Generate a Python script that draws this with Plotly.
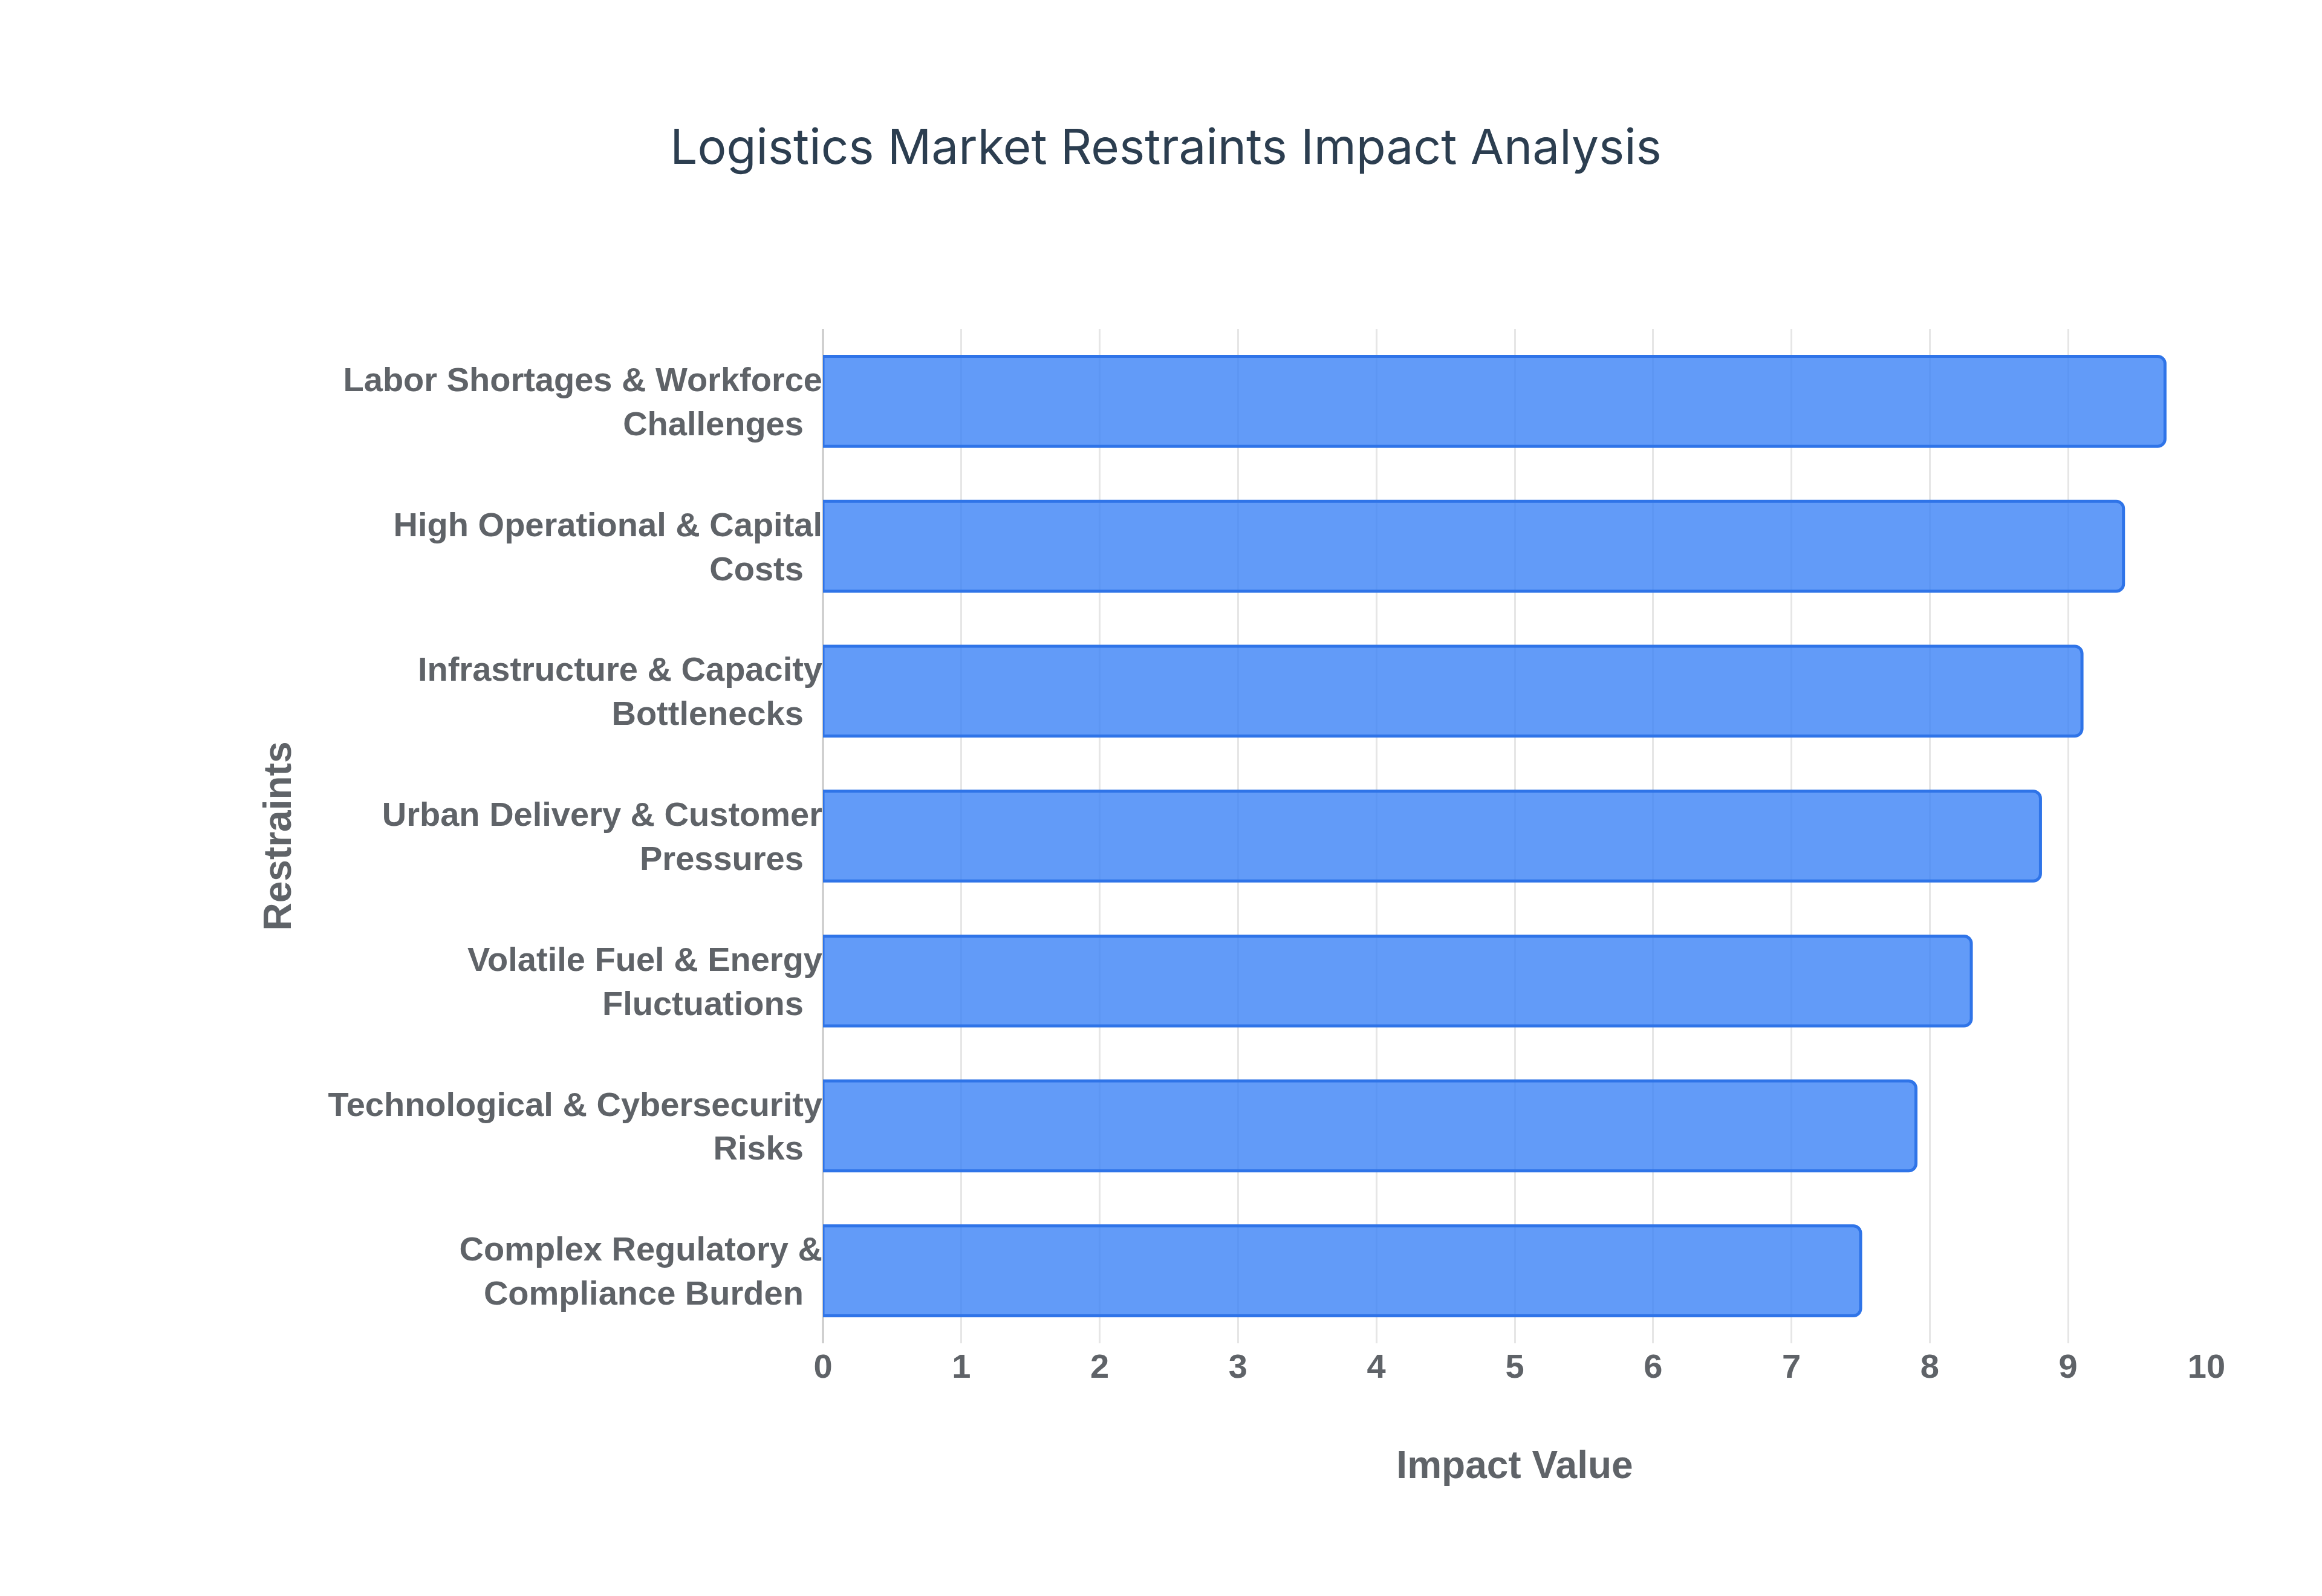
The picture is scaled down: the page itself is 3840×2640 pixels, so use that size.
import plotly.graph_objects as go

restraints = [
    "Labor Shortages & Workforce<br>Challenges",
    "High Operational & Capital<br>Costs",
    "Infrastructure & Capacity<br>Bottlenecks",
    "Urban Delivery & Customer<br>Pressures",
    "Volatile Fuel & Energy<br>Fluctuations",
    "Technological & Cybersecurity<br>Risks",
    "Complex Regulatory &<br>Compliance Burden",
]
impact = [9.7, 9.4, 9.1, 8.8, 8.3, 7.9, 7.5]

fig = go.Figure(go.Bar(
    x=impact, y=restraints, orientation="h",
    marker=dict(color="rgba(59,130,246,0.8)", line=dict(color="#2f74e8", width=5)),
    hoverinfo="x+y",
))

tick_font = dict(family="Liberation Sans, Arial", size=56, color="#5f6368", weight="bold")
fig.update_layout(
    width=3840, height=2640,
    paper_bgcolor="white", plot_bgcolor="white",
    margin=dict(l=1353, r=199, t=536, b=426),
    bargap=0.38,
    barcornerradius=12,
    title=dict(text="Logistics Market Restraints Impact Analysis", x=0.5, xanchor="center",
               y=0.911, yanchor="middle",
               font=dict(family="Inter, Noto Sans", size=80, color="#2c3e50")),
    xaxis=dict(range=[0, 10], dtick=1, showgrid=True, gridcolor="#e6e6e6", gridwidth=3,
               zeroline=True, zerolinecolor="#d0d0d0", zerolinewidth=4,
               tickfont=tick_font, ticks="", ticklen=0,
               title=dict(text="Impact Value", standoff=110,
                          font=dict(family="Liberation Sans, Arial", size=64, color="#5f6368", weight="bold"))),
    yaxis=dict(autorange="reversed", tickfont=tick_font, ticksuffix="  ", showgrid=False,
               title=dict(text="Restraints", standoff=40,
                          font=dict(family="Liberation Sans, Arial", size=64, color="#5f6368", weight="bold"))),
    showlegend=False,
)
fig.write_html("out.html")
